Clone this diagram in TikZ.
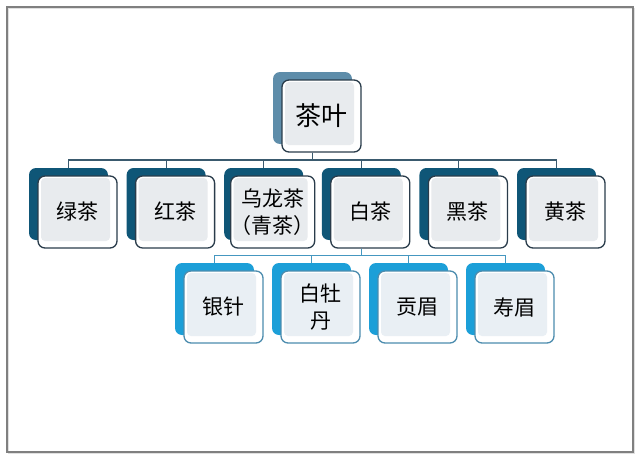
\documentclass[tikz,border=0pt]{standalone}
\usepackage{fontspec}
\setmainfont{Noto Sans CJK SC}
\usepackage{tikz}

\definecolor{topblue}{HTML}{5E8DAA}
\definecolor{deepblue}{HTML}{0F5677}
\definecolor{skyblue}{HTML}{1C9FD8}
\definecolor{edgedark}{HTML}{2A3C4B}
\definecolor{edgelight}{HTML}{4C8CAE}
\definecolor{innergray}{HTML}{E8EBEE}
\definecolor{innerpale}{HTML}{E9EFF4}
\definecolor{linkdark}{HTML}{3A5A6E}
\definecolor{linklight}{HTML}{4597C0}

\tikzset{
  backbox/.style={rectangle, rounded corners=7pt, minimum width=79pt, minimum height=72pt, inner sep=0pt},
  frontbox/.style={rectangle, rounded corners=7pt, draw=#1, line width=1.3pt, fill=white,
    minimum width=79pt, minimum height=72pt, inner sep=0pt, align=center},
  innerfill/.style={path picture={\fill[#1, rounded corners=4pt]
    ([shift={(3pt,-2pt)}]path picture bounding box.north west) rectangle
    ([shift={(-7pt,7pt)}]path picture bounding box.south east);}},
}

\begin{document}
\begin{tikzpicture}[x=1pt, y=-1pt]
  \useasboundingbox (0,0) rectangle (640,458);
  \draw[black!12, line width=1.2pt] (8.5,8.5) rectangle (634.5,453.5);
  \draw[black!50, line width=1.2pt] (7,7) rectangle (633,452);

  % top
  \node[backbox, fill=topblue] (cha-b) at (312.5,108) {};
  \node[frontbox=edgedark, innerfill=innergray, font=\fontsize{26}{30}\selectfont] (cha) at (321.5,116) {茶叶};
  \coordinate (bus1) at (0,160);

  % second row
  \foreach \n/\t [count=\k from 0] in {lv/绿茶, hong/红茶, wulong/{乌龙茶\\（青茶）}, bai/白茶, hei/黑茶, huang/黄茶} {
    \node[backbox, fill=deepblue] (\n-b) at (68.5+97.6*\k,204) {};
    \node[frontbox=edgedark, innerfill=innergray, font=\fontsize{21}{27}\selectfont] (\n) at (77.5+97.6*\k,212) {\t};
    \draw[linkdark, line width=1.1pt] (cha.south -| cha-b) -- (bus1 -| cha-b) -| (\n-b.north);
  }
  \coordinate (bus2) at (0,255.5);

  % third row
  \foreach \n/\t [count=\k from 0] in {yinzhen/银针, mudan/{白牡\\丹}, gongmei/贡眉, shoumei/寿眉} {
    \node[backbox, fill=skyblue] (\n-b) at (214.5+97*\k,299) {};
    \node[frontbox=edgelight, innerfill=innerpale, font=\fontsize{21}{27}\selectfont] (\n) at (223.5+97*\k,307) {\t};
    \draw[linklight, line width=1.1pt] (bai.south -| bai-b) -- (bus2 -| bai-b) -| (\n-b.north);
  }
\end{tikzpicture}
\end{document}
